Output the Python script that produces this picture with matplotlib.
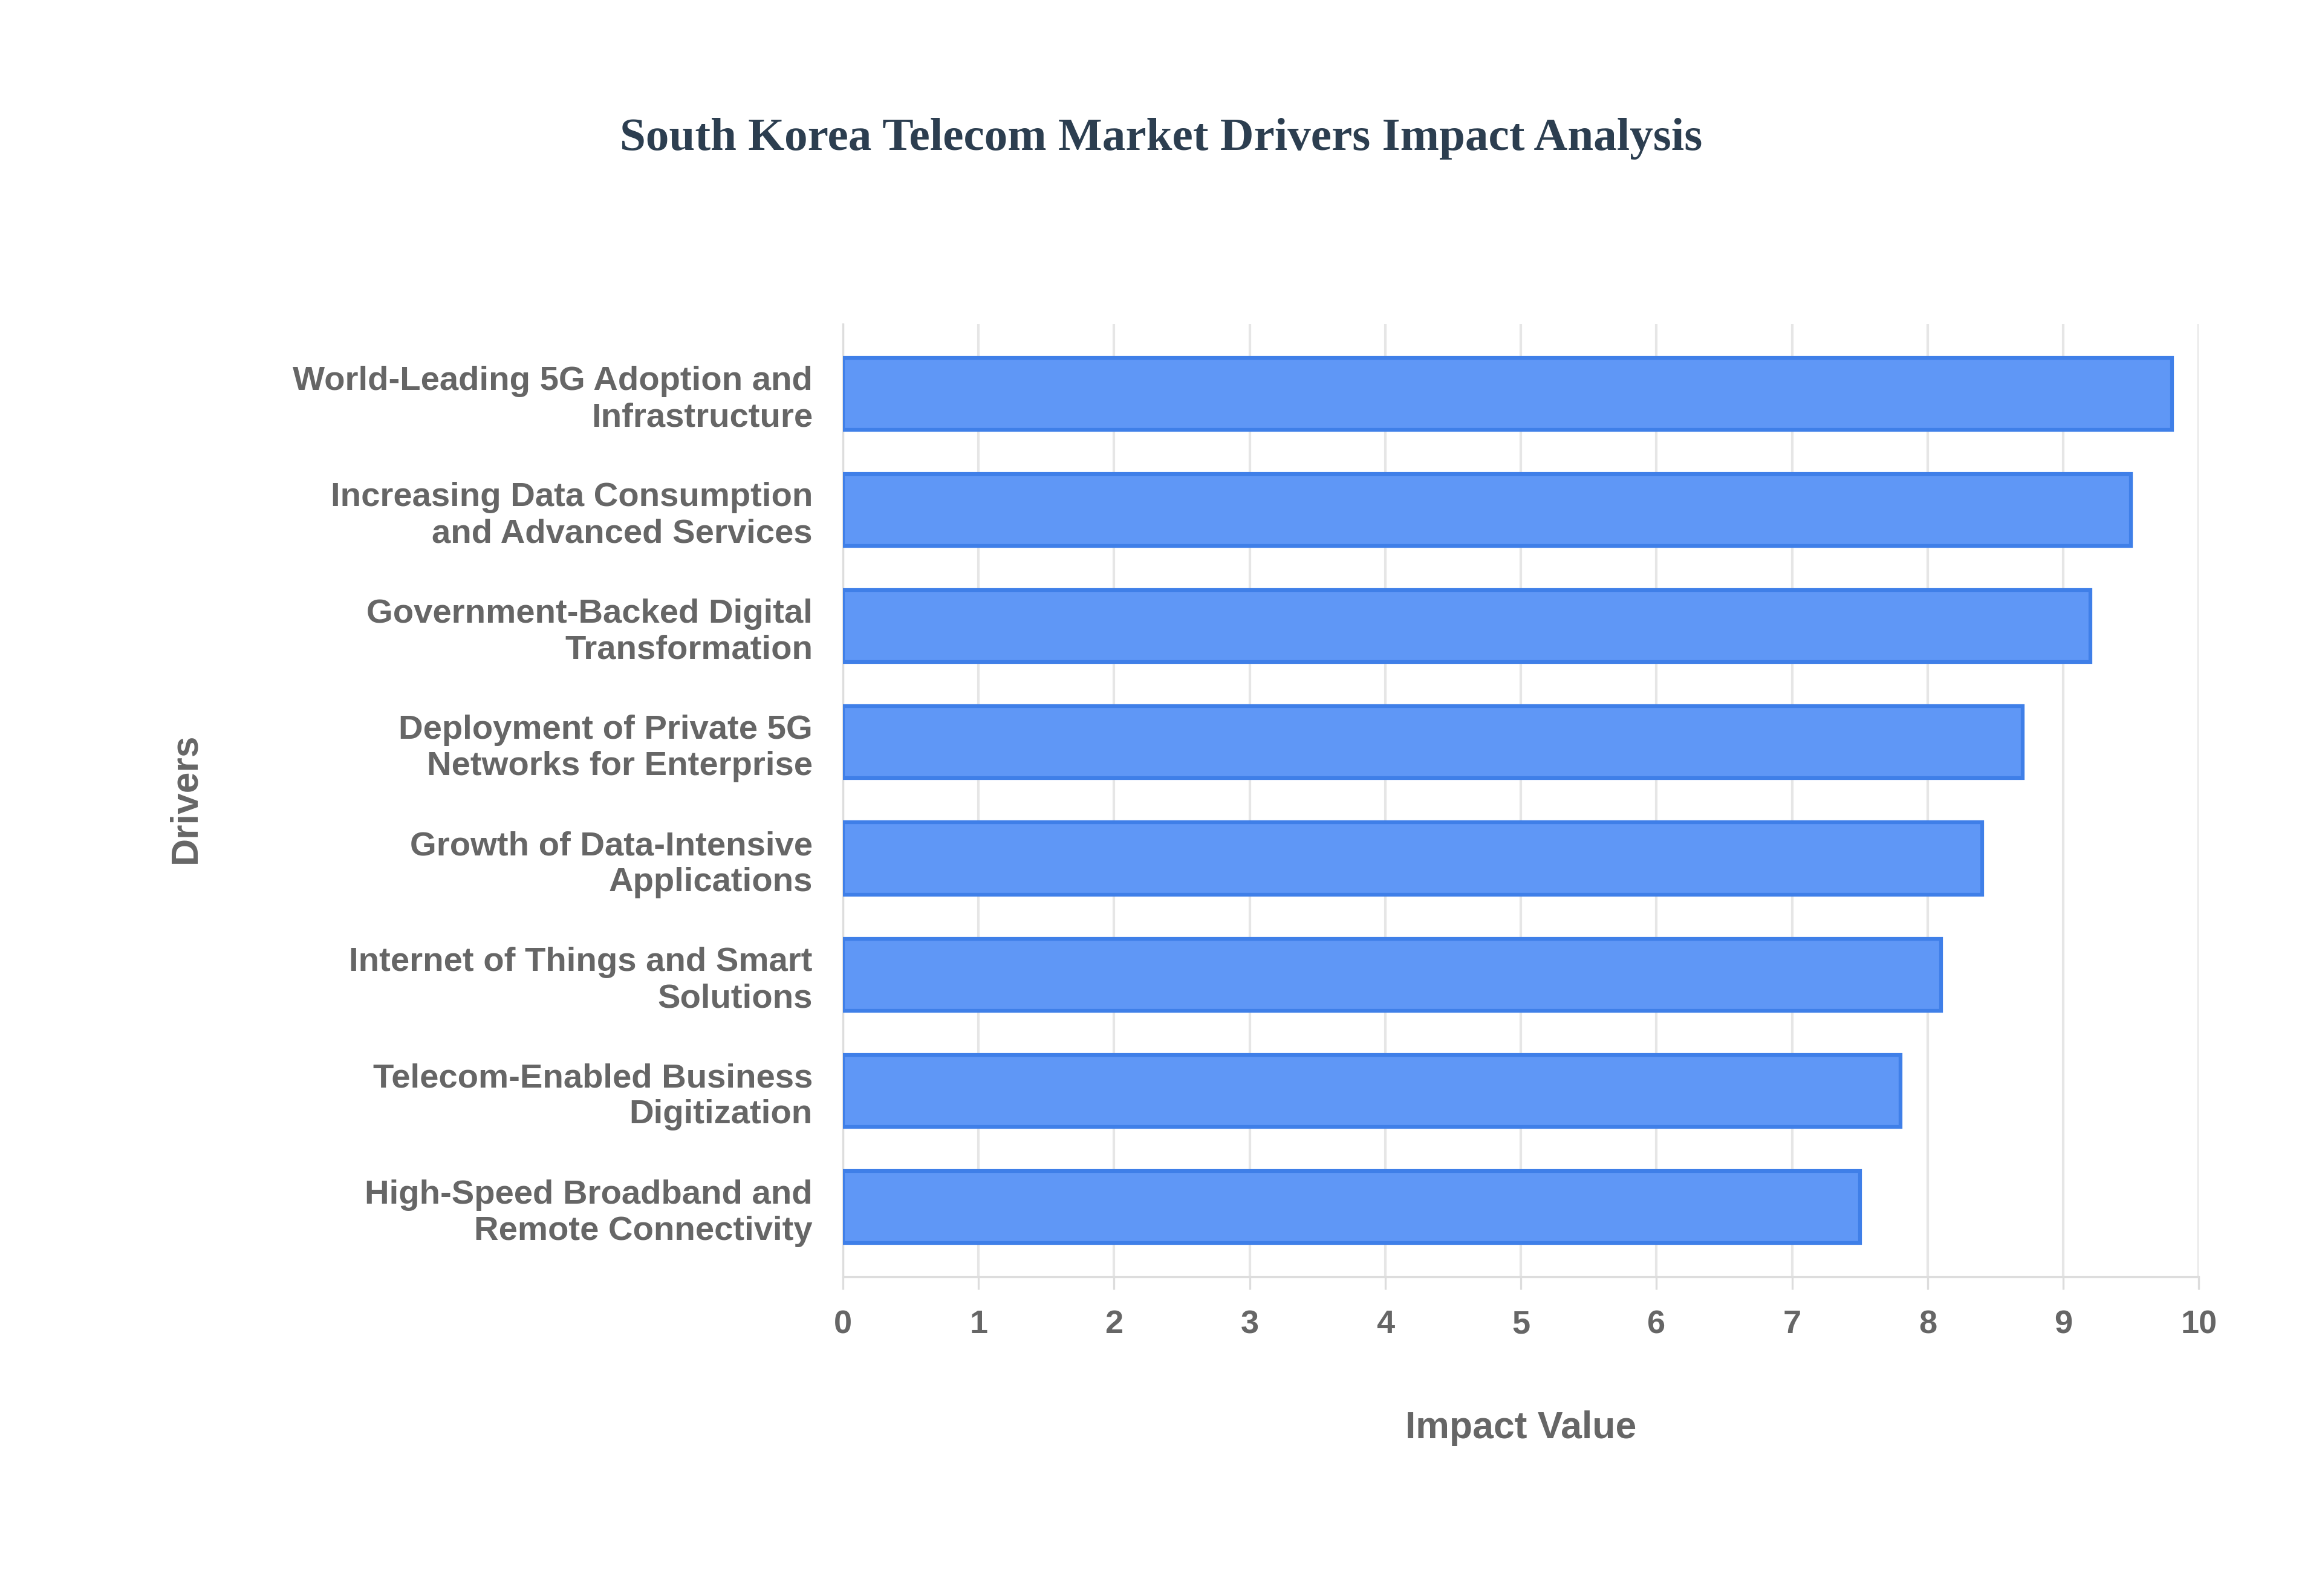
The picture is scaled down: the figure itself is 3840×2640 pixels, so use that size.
import matplotlib
matplotlib.use("Agg")
import matplotlib.pyplot as plt

drivers = ["World-Leading 5G Adoption and\nInfrastructure",
           "Increasing Data Consumption\nand Advanced Services",
           "Government-Backed Digital\nTransformation",
           "Deployment of Private 5G\nNetworks for Enterprise",
           "Growth of Data-Intensive\nApplications",
           "Internet of Things and Smart\nSolutions",
           "Telecom-Enabled Business\nDigitization",
           "High-Speed Broadband and\nRemote Connectivity"]
values = [9.8, 9.5, 9.2, 8.7, 8.4, 8.1, 7.8, 7.5]
ticks = list(range(0, 11))

fig = plt.figure(figsize=(12.8, 8.8), dpi=300)
ax = fig.add_axes([0.363, 0.20, 0.584, 0.597])
ypos = list(range(len(drivers)))[::-1]
ax.barh(ypos, values, height=0.62, color="#5f97f6", edgecolor="#3f7fe8", linewidth=1.5, zorder=3)
ax.set_xlim(0, 10)
ax.set_ylim(-0.6, 7.6)
ax.set_xticks(ticks)
ax.set_yticks(ypos)
ax.set_yticklabels(drivers, fontsize=13.5, fontweight="bold", color="#666666", family="Liberation Sans")
for t in ax.get_xticklabels():
    t.set_fontsize(13); t.set_fontweight("bold"); t.set_color("#666666"); t.set_family("Liberation Sans")
ax.grid(axis="x", color="#e6e6e6", linewidth=1, zorder=0)
for s in ["top", "right"]:
    ax.spines[s].set_visible(False)
ax.spines["left"].set_color("#dddddd")
ax.spines["bottom"].set_color("#dddddd")
ax.tick_params(axis="y", length=0, pad=12)
ax.tick_params(axis="x", length=5, color="#dddddd", pad=8)
ax.set_xlabel("Impact Value", fontsize=15, fontweight="bold", color="#666666", family="Liberation Sans", labelpad=28)
fig.text(0.08, 0.5, "Drivers", rotation=90, fontsize=15, fontweight="bold", color="#666666",
         family="Liberation Sans", ha="center", va="center")
fig.text(0.5, 0.913, "South Korea Telecom Market Drivers Impact Analysis", fontsize=18.5, fontweight="bold",
         color="#2c3e50", family="Liberation Serif", ha="center", va="center")
fig.savefig("out.png", dpi=300, facecolor="white")
